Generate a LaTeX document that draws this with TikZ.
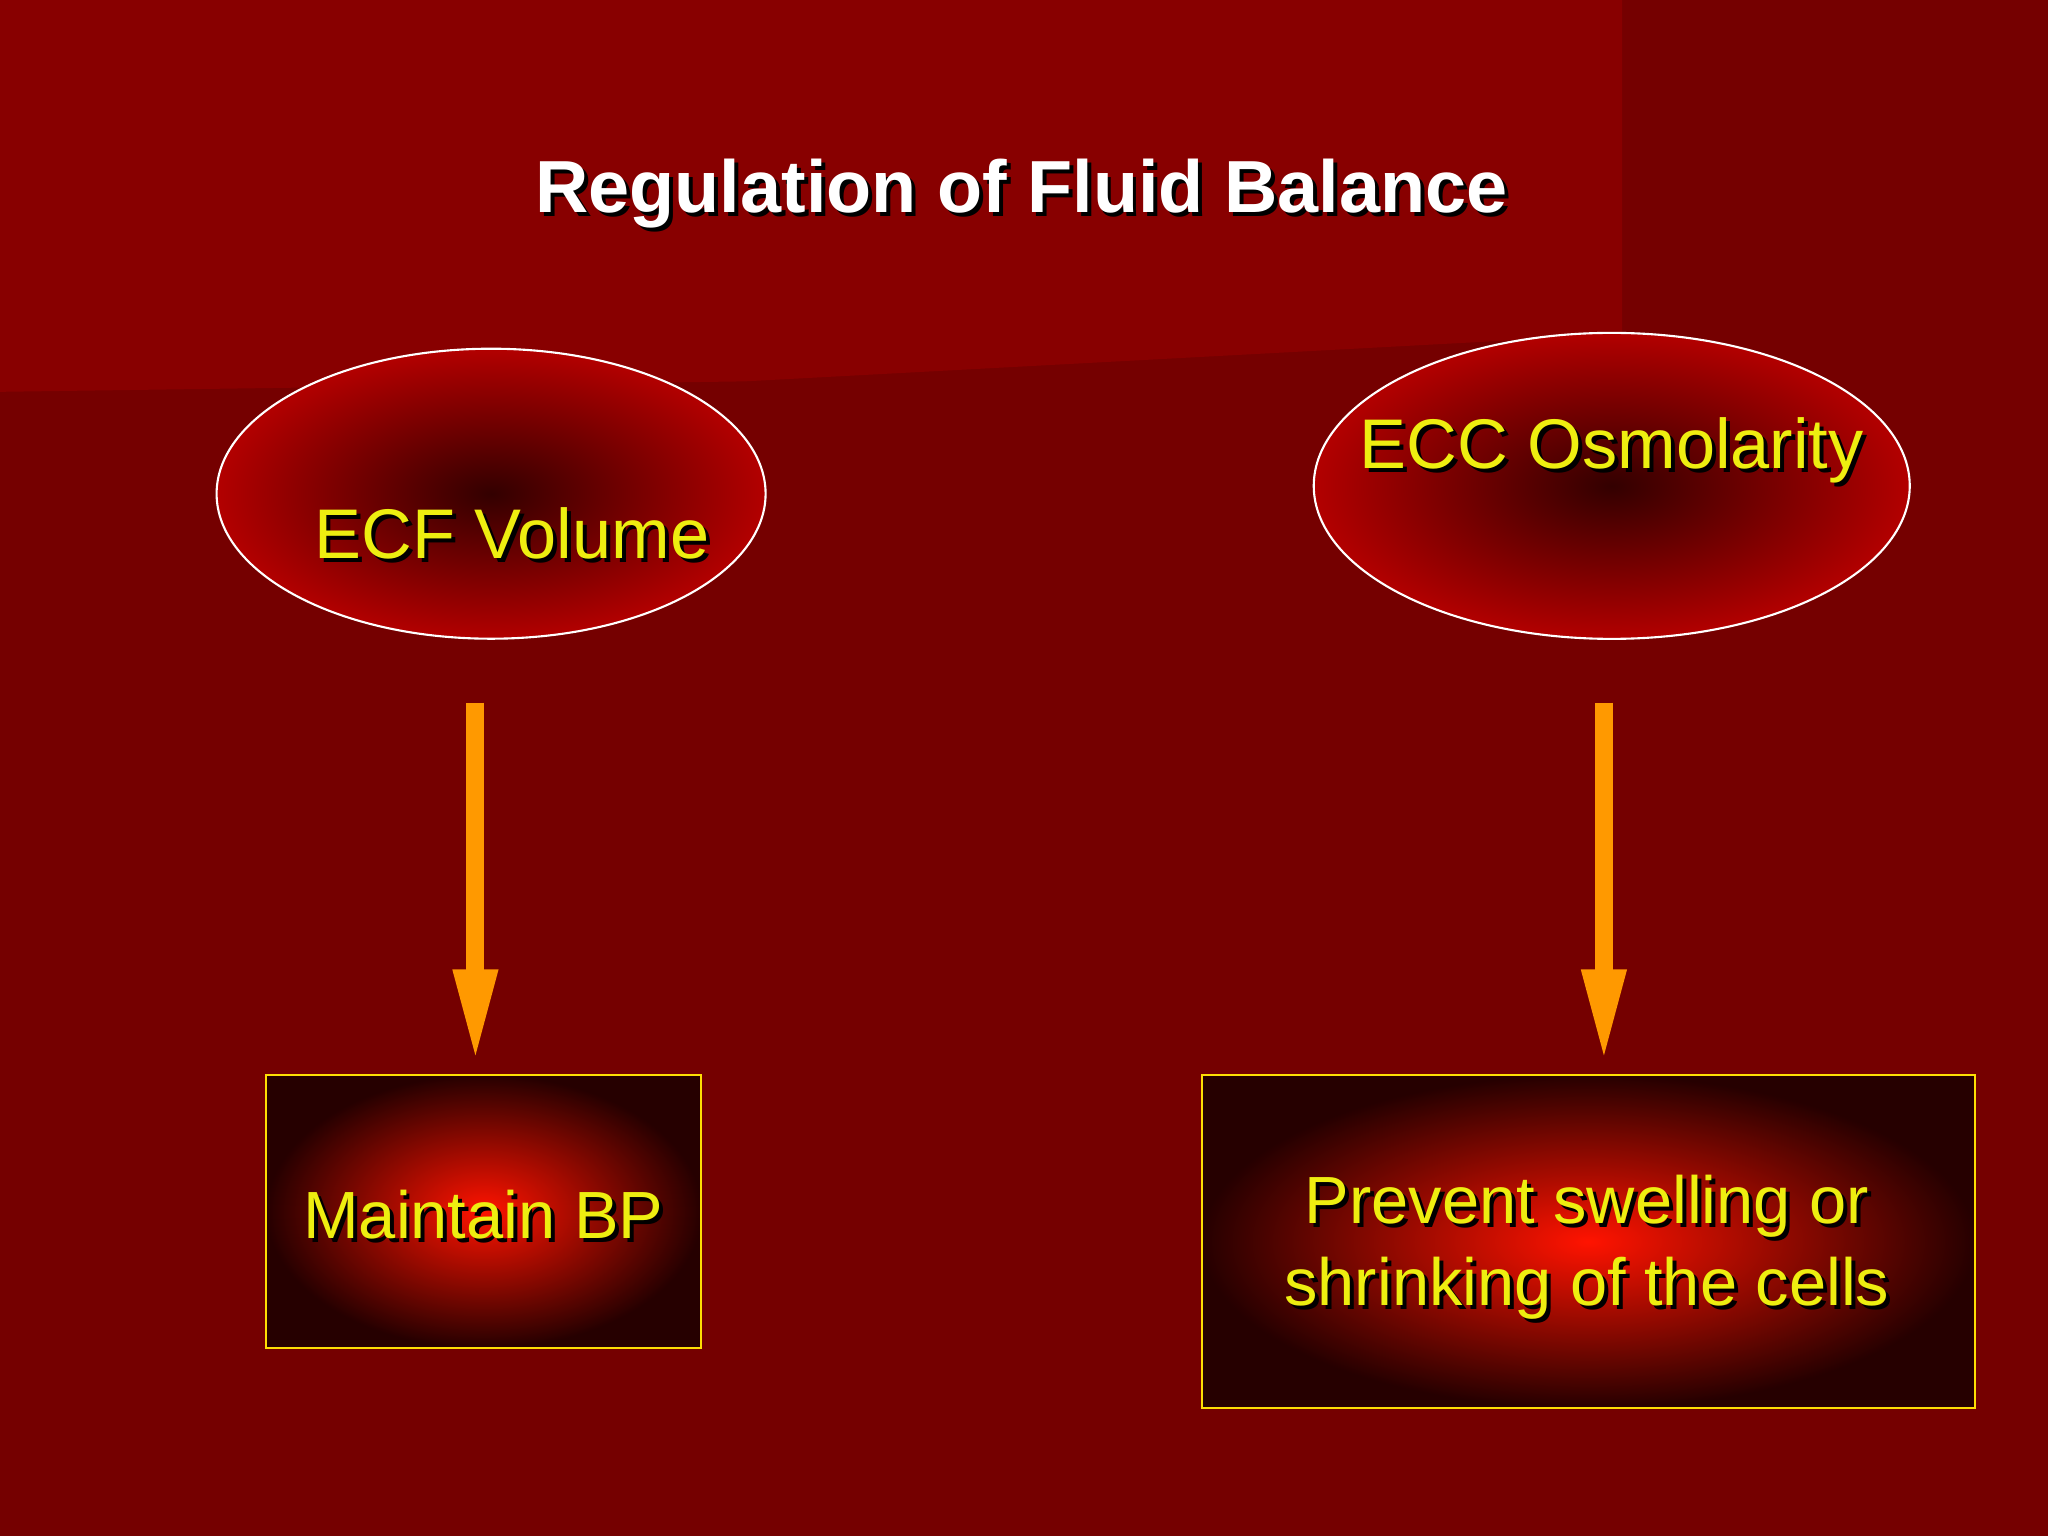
\documentclass[tikz,border=0pt]{standalone}
\usepackage{fontspec}
\setmainfont{Liberation Sans}
\usetikzlibrary{shapes.geometric,arrows.meta,shadows}
\definecolor{bgred}{HTML}{750000}
\definecolor{topred}{HTML}{880000}
\definecolor{txtyellow}{HTML}{EEEE10}
\definecolor{arroworange}{HTML}{FF9900}
\tikzset{
    oval/.style={ellipse, draw=white, line width=0.6pt, inner color=black!80!red, outer color=red!70!black},
    panel/.style={rectangle, draw=yellow!80!orange, line width=0.6pt, inner color=red!85!orange, outer color=black!85!red},
    label/.style={text=txtyellow, font=\fontsize{20}{24}\selectfont, align=center},
    boxlabel/.style={label, font=\fontsize{19}{23.5}\selectfont},
    flow/.style={arroworange, line width=0.18cm, -{Triangle[length=0.95cm,width=0.4cm]}}
}
\newcommand{\shadowtext}[3]{%
    \node[#1, text=black, xshift=0.04cm, yshift=-0.04cm] at (#2) {#3};
    \node[#1] at (#2) {#3};}
\begin{document}
\begin{tikzpicture}[x=0.013061cm, y=-0.013061cm]
    % background
    \fill[bgred] (0,0) rectangle (1568,1176);
    \fill[topred] (0,0) -- (1242,0) -- (1242,256) -- (570,292) -- (0,300) -- cycle;
    \useasboundingbox (0,0) rectangle (1568,1176);

    % title
    \node[text=black, font=\bfseries\fontsize{21}{25}\selectfont] at (785,151) {Regulation of Fluid Balance};
    \node[text=white, font=\bfseries\fontsize{21}{25}\selectfont] (title) at (782,148) {Regulation of Fluid Balance};

    % ovals
    \node[oval, minimum width=5.49cm, minimum height=2.9cm] (volume) at (376,378) {};
    \node[oval, minimum width=5.96cm, minimum height=3.06cm] (osmo) at (1234,372) {};
    \shadowtext{label}{392,408}{ECF Volume}
    \shadowtext{label}{1234,345}{ECC Osmolarity}

    % boxes
    \node[panel, minimum width=4.35cm, minimum height=2.73cm] (bp) at (370.5,927.5) {};
    \node[panel, minimum width=7.73cm, minimum height=3.33cm] (cells) at (1216,950.5) {};
    \shadowtext{boxlabel}{370,930}{Maintain BP}
    \shadowtext{boxlabel}{1215,955}{Prevent swelling or\\shrinking of the cells}

    % arrows
    \coordinate (a1) at (364,538);
    \coordinate (b1) at (364,815);
    \coordinate (a2) at (1228,538);
    \coordinate (b2) at (1228,815);
    \draw[flow] (a1) -- (b1);
    \draw[flow] (a2) -- (b2);
\end{tikzpicture}
\end{document}
